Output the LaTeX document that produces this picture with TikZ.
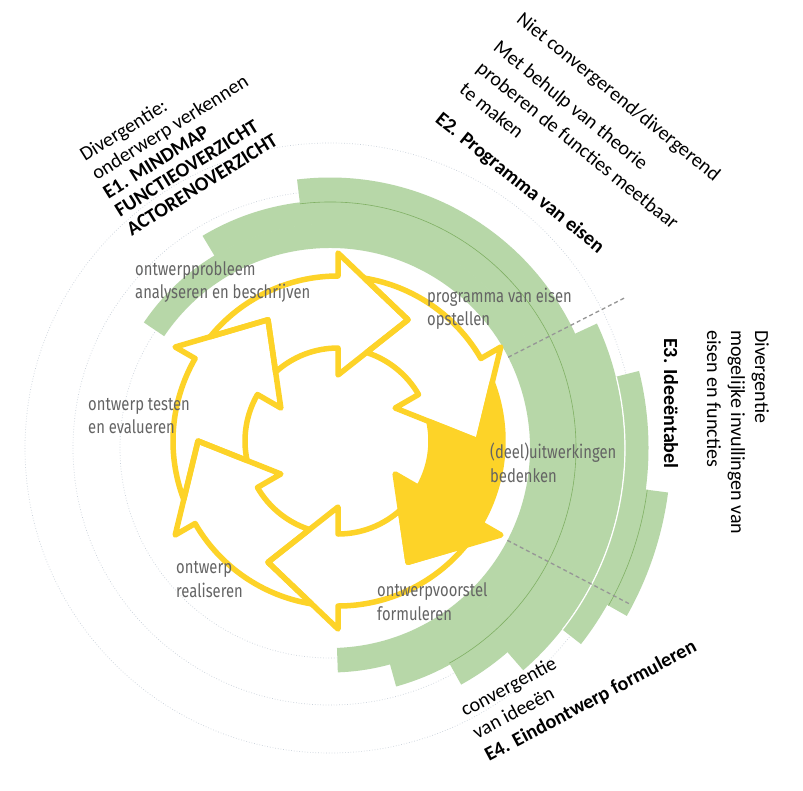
\documentclass[tikz,border=0pt]{standalone}
\usepackage{fontspec}
\setmainfont{Carlito}
\newfontfamily\lblfont[FakeStretch=0.8]{Fira Sans}
\definecolor{gfill}{RGB}{183,215,168}
\definecolor{gline}{RGB}{128,176,100}
\definecolor{yel}{RGB}{253,211,40}
\definecolor{lblgray}{RGB}{100,100,100}
\definecolor{dotc}{RGB}{200,208,218}
\definecolor{dashc}{RGB}{150,150,150}
\tikzset{
  outer/.style={anchor=base west, inner sep=0pt, font=\fontsize{20}{24}\selectfont, text=black},
  outerb/.style={anchor=base west, inner sep=0pt, font=\fontsize{20}{24}\selectfont\bfseries, text=black},
  inlbl/.style={anchor=base west, inner sep=0pt, font=\lblfont\fontsize{18.5}{22}\selectfont, text=lblgray},
  yarrow/.style={draw=yel, line width=5.5pt, line join=round},
  dotcirc/.style={draw=dotc, line width=0.7pt, dotted},
  dashln/.style={draw=dashc, line width=1.3pt, dash pattern=on 4pt off 3pt},
  bandfill/.style={fill=gfill},
}
\newcommand\cyclearrow[2]{%
  \path[#1] (#2+50.8:165pt) arc[start angle=#2+50.8, end angle=#2, radius=165pt]
    -- (#2:188pt) -- (#2-30:140pt) -- (#2:66pt) -- (#2:93pt)
    arc[start angle=#2, end angle=#2+42.14, radius=93pt]
    -- (#2+30:140pt) -- cycle;}
\begin{document}
\begin{tikzpicture}[x=1pt,y=-1pt]
\useasboundingbox (0,0) rectangle (803,790);
\fill[white] (0,0) rectangle (803,790);
\coordinate (G) at (330,448);
\coordinate (Y) at (338,441);

\begin{scope}[shift={(G)}]
  \foreach \r in {210,257,305} \draw[dotcirc] (0,0) circle[radius=\r pt];
  \foreach \ri/\ro/\aa/\ab in {200/224.5/146/-88, 224/247.5/121/-74.5, 247/270.5/97/-61, 270/294.5/25/-49, 295/318.5/14/-38, 318/341/-7.5/-29.5}
    \path[bandfill] (\aa:\ri pt) arc[start angle=\aa, end angle=\ab, radius=\ri pt]
      -- (\ab:\ro pt) arc[start angle=\ab, end angle=\aa, radius=\ro pt] -- cycle;
  \draw[gline, line width=0.6pt] (97:246pt) arc[start angle=97, end angle=-61, radius=246pt];
  \draw[gline, line width=0.6pt] (-7.5:320pt) arc[start angle=-7.5, end angle=-29.5, radius=320pt];
  \draw[white, line width=1.2pt] (14:295pt) arc[start angle=14, end angle=-38, radius=295pt];
  \coordinate (d1a) at (27:200pt);
  \coordinate (d1b) at (27:331pt);
  \coordinate (d2a) at (-27.5:200pt);
  \coordinate (d2b) at (-27.5:338pt);
\end{scope}
\draw[dashln] (d1a) -- (d1b);
\draw[dashln] (d2a) -- (d2b);

\begin{scope}[shift={(Y)}]
  \cyclearrow{fill=yel}{-30}
  \foreach \b in {90,30,-30,-90,-150,150} {\cyclearrow{yarrow}{\b}}
\end{scope}

% inner labels
\node[inlbl] (l1a) at (135,275) {ontwerpprobleem};
\node[inlbl] (l1b) at (135,298) {analyseren en beschrijven};
\node[inlbl] (l2a) at (427,302) {programma van eisen};
\node[inlbl] (l2b) at (427,325) {opstellen};
\node[inlbl] (l3a) at (490,458) {(deel)uitwerkingen};
\node[inlbl] (l3b) at (490,482) {bedenken};
\node[inlbl] (l4a) at (377,596) {ontwerpvoorstel};
\node[inlbl] (l4b) at (377,620) {formuleren};
\node[inlbl] (l5a) at (176,573) {ontwerp};
\node[inlbl] (l5b) at (176,597) {realiseren};
\node[inlbl] (l6a) at (88,410) {ontwerp testen};
\node[inlbl] (l6b) at (88,433) {en evalueren};

% top-left block
\node[outer, rotate=32] (tl1) at (85,162) {Divergentie:};
\node[outer, rotate=32] (tl2) at (96.7,180.7) {onderwerp verkennen};
\node[outerb, rotate=32] (tl3) at (108.3,199.3) {E1. MINDMAP};
\node[outerb, rotate=32] (tl4) at (120,217.4) {FUNCTIEOVERZICHT};
\node[outerb, rotate=32] (tl5) at (131.6,236.2) {ACTORENOVERZICHT};

% top-right block
\node[outer, rotate=-39] (tr1) at (515.4,21.1) {Niet convergerend/divergerend};
\node[outer, rotate=-39] (tr2) at (492.2,49.8) {Met behulp van theorie};
\node[outer, rotate=-39] (tr3) at (475.2,70.8) {proberen de functies meetbaar};
\node[outer, rotate=-39] (tr4) at (458.2,91.8) {te maken};
\node[outerb, rotate=-39] (tr5) at (434.3,121.3) {E2. Programma van eisen};

% right block
\node[outer, rotate=-90] (r1) at (755,330) {Divergentie};
\node[outer, rotate=-90] (r2) at (731,330) {mogelijke invullingen van};
\node[outer, rotate=-90] (r3) at (707,330) {eisen en functies};
\node[outerb, rotate=-90] (r4) at (664,338) {E3. Ideeëntabel};

% bottom-right block
\node[outer, rotate=28] (br1) at (465,717) {convergentie};
\node[outer, rotate=28] (br2) at (477,739.5) {van ideeën};
\node[outerb, rotate=28] (br3) at (488.9,762) {E4. Eindontwerp formuleren};
\end{tikzpicture}
\end{document}
